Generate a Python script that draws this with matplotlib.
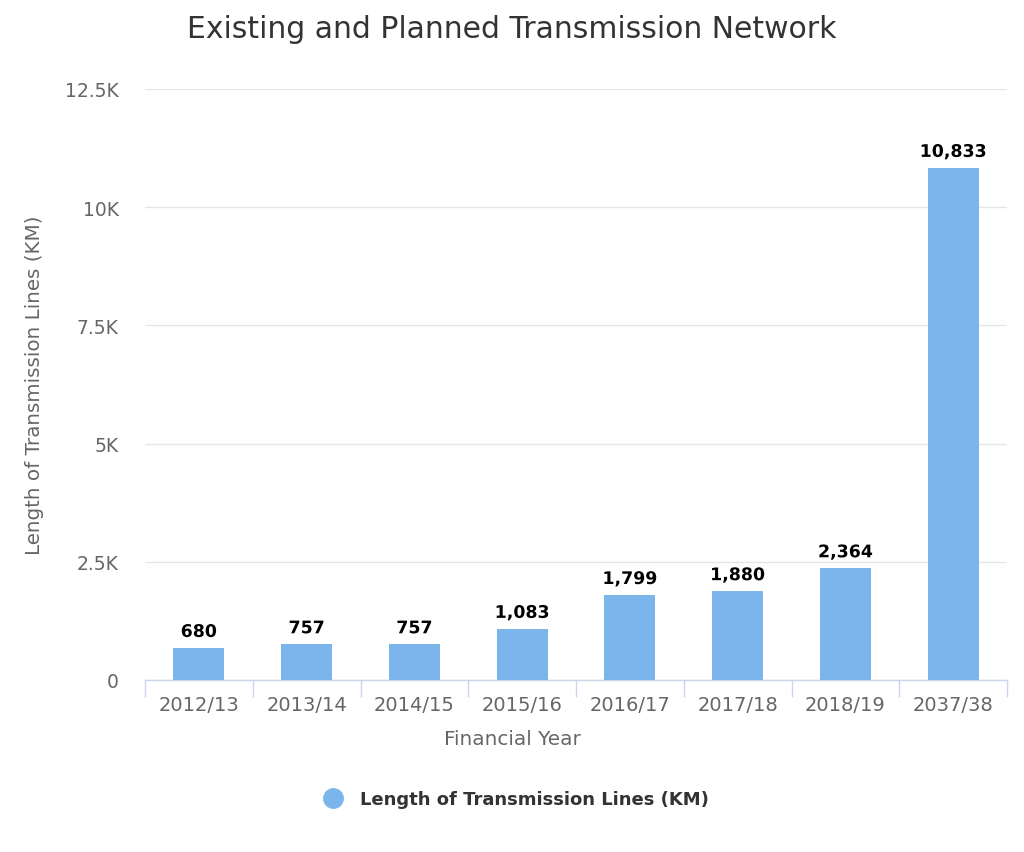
import matplotlib.pyplot as plt
import matplotlib.patheffects as pe
from matplotlib.lines import Line2D
from matplotlib.ticker import FixedLocator

years = ["2012/13", "2013/14", "2014/15", "2015/16", "2016/17", "2017/18", "2018/19", "2037/38"]
lengths_km = [680, 757, 757, 1083, 1799, 1880, 2364, 10833]
y_ticks = [0, 2500, 5000, 7500, 10000, 12500]
y_tick_labels = ["0", "2.5K", "5K", "7.5K", "10K", "12.5K"]

plt.rcParams["font.family"] = ["DejaVu Sans"]

W, H = 1024, 853
fig = plt.figure(figsize=(W / 100, H / 100), dpi=100)
ax = fig.add_axes([145 / W, 172 / H, 862 / W, 591 / H])

x = list(range(len(years)))
ax.bar(x, lengths_km, width=0.475, color="#7cb5ec", zorder=3)

# value labels above each bar
for xi, v in zip(x, lengths_km):
    ax.annotate(f"{v:,}", (xi, v), xytext=(0, 5), textcoords="offset points",
                ha="center", va="bottom", fontsize=12.5, fontweight="bold", color="black",
                path_effects=[pe.withStroke(linewidth=2.5, foreground="white")], zorder=4)

ax.set_xlim(-0.5, len(years) - 0.5)
ax.set_ylim(0, 12500)
ax.set_yticks(y_ticks)
ax.set_yticklabels(y_tick_labels)
ax.set_xticks(x)
ax.set_xticklabels(years)
ax.xaxis.set_minor_locator(FixedLocator([i - 0.5 for i in range(len(years) + 1)]))

ax.grid(axis="y", color="#e6e6e6", linewidth=1, zorder=0)
for side in ["top", "right", "left"]:
    ax.spines[side].set_visible(False)
ax.spines["bottom"].set_color("#ccd6eb")
ax.spines["bottom"].set_linewidth(1)

ax.tick_params(axis="x", which="major", length=0, pad=11, labelsize=14, labelcolor="#666666")
ax.tick_params(axis="x", which="minor", length=12, color="#ccd6eb", width=1)
ax.tick_params(axis="y", length=0, pad=19, labelsize=13.5, labelcolor="#666666")

fig.text(0.5, 1 - 740 / H, "Financial Year", ha="center", va="center", fontsize=14.4, color="#666666")
fig.text(35 / W, 1 - 385 / H, "Length of Transmission Lines (KM)", ha="center", va="center",
         rotation=90, fontsize=14.3, color="#666666")

fig.text(0.5, 1 - 30 / H, "Existing and Planned Transmission Network", ha="center", va="center",
         fontsize=21.5, color="#333333")

handle = Line2D([], [], marker="o", linestyle="none", markersize=14, color="#7cb5ec")
fig.legend([handle], ["Length of Transmission Lines (KM)"], loc="center",
           bbox_to_anchor=(0.5, 1 - 800 / H), frameon=False,
           prop={"size": 13, "weight": "bold"}, labelcolor="#333333", handletextpad=0.5)

fig.savefig("out.png", dpi=100)
